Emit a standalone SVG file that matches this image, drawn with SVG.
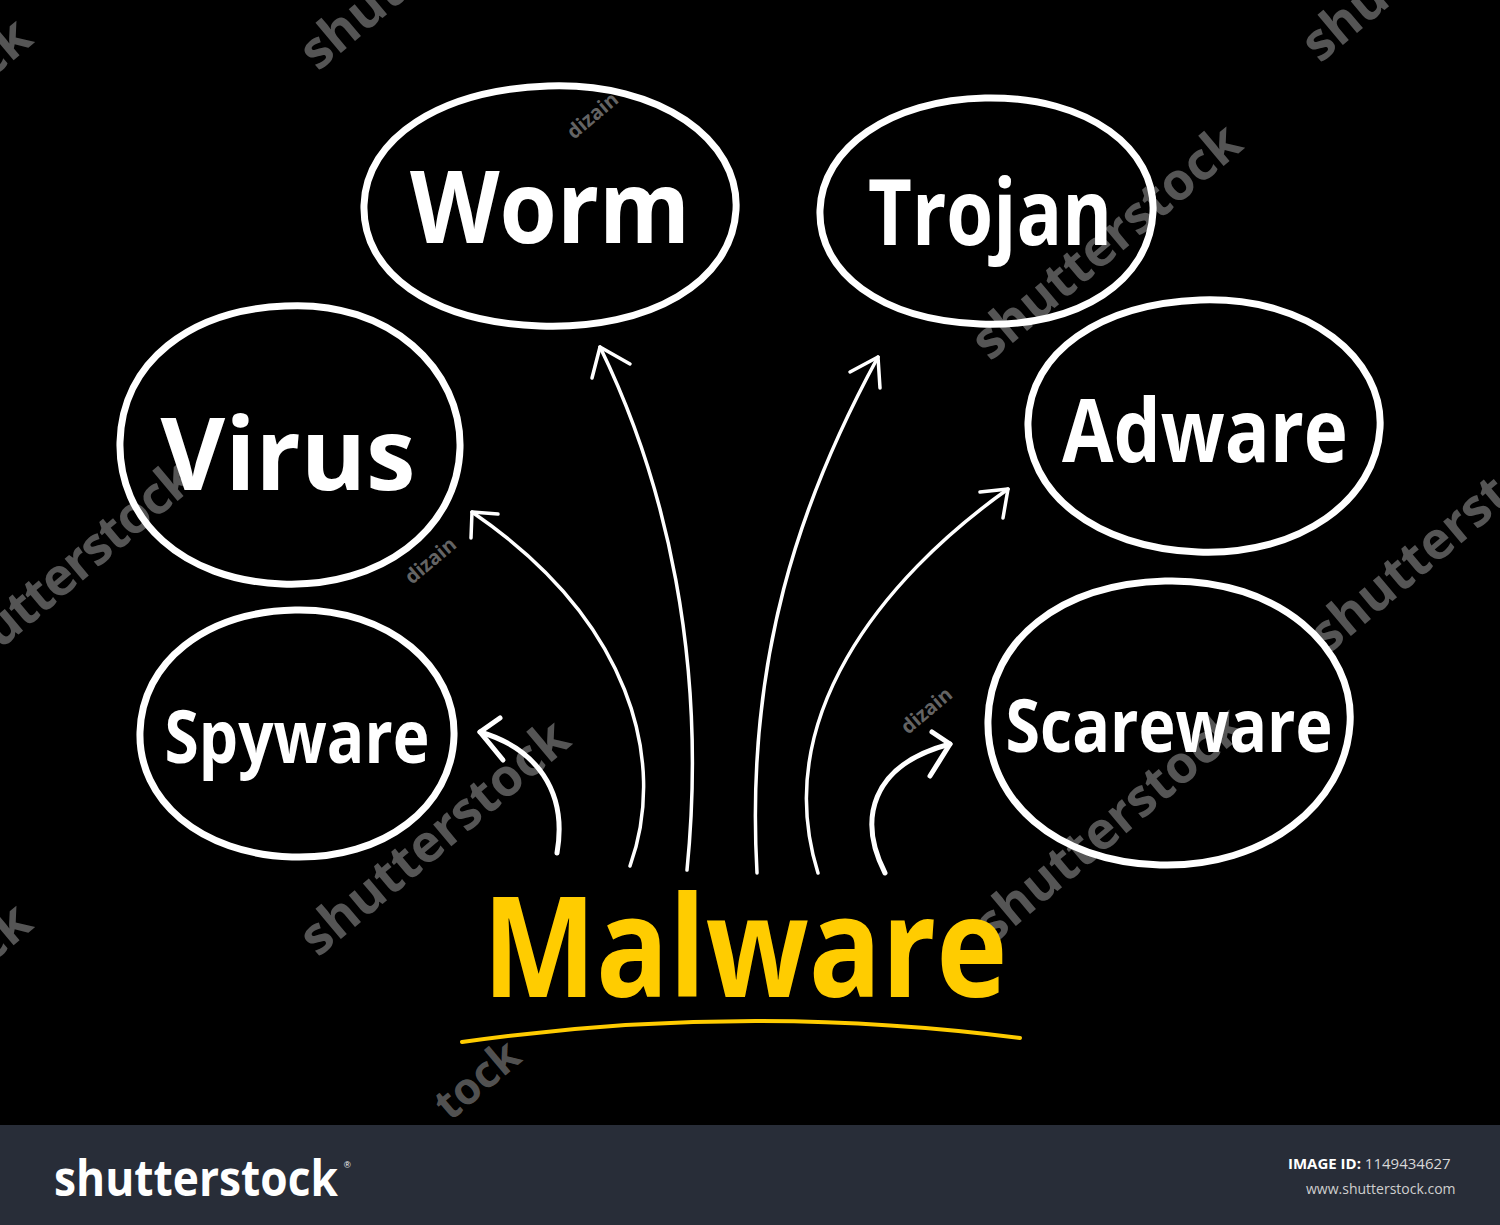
<svg xmlns="http://www.w3.org/2000/svg" width="1500" height="1225" viewBox="0 0 1500 1225">
<style>
.ring{fill:none;stroke:#fff;stroke-width:7;stroke-linecap:round}
.lbl{fill:#fff;font-family:"Open Sans","Liberation Sans",sans-serif;font-weight:700}
.arr{fill:none;stroke:#fff;stroke-linecap:round;stroke-linejoin:round}
.wm{fill:#9a9a9a;fill-opacity:0.55;font-family:"Open Sans","Liberation Sans",sans-serif;font-weight:700}
.dz{fill:#aaa;fill-opacity:0.6;font-family:"Open Sans","Liberation Sans",sans-serif;font-weight:700;font-size:20px}
</style>
<rect width="1500" height="1225" fill="#000"/>
<g id="watermarks">
<text class="wm" font-size="52" transform="translate(990,362) rotate(-40)">shutterstock</text>
<text class="wm" font-size="52" transform="translate(318,958) rotate(-40)">shutterstock</text>
<text class="wm" font-size="52" transform="translate(0,650) rotate(-40)" textLength="260">utterstock</text>
<text class="wm" font-size="52" transform="translate(993,945) rotate(-40)">shutterstock</text>
<text class="wm" font-size="52" transform="translate(1328,655) rotate(-40)">shutterst</text>
<text class="wm" font-size="52" transform="translate(318,72) rotate(-40)">shutt</text>
<text class="wm" font-size="52" transform="translate(1320,64) rotate(-40)">shutt</text>
<text class="wm" font-size="52" transform="translate(-10,80) rotate(-40)">ck</text>
<text class="wm" font-size="52" transform="translate(-10,965) rotate(-40)">ck</text>
<text class="wm" font-size="44" transform="translate(450,1122) rotate(-40)">tock</text>
<text class="dz" transform="translate(574,140) rotate(-40)">dizain</text>
<text class="dz" transform="translate(412,585) rotate(-40)">dizain</text>
<text class="dz" transform="translate(908,735) rotate(-40)">dizain</text>
</g>
<g id="node-worm">
<path class="ring" d="M548,86 C660,82 740,140 736,210 C732,282 650,330 540,326 C430,322 362,272 364,205 C366,138 440,90 548,86 Z"/>
<text class="lbl" x="550" y="243" font-size="100" text-anchor="middle" textLength="280" lengthAdjust="spacingAndGlyphs">Worm</text>
</g>
<g id="node-trojan">
<path class="ring" d="M985,98 C1090,96 1156,150 1153,212 C1150,280 1080,328 980,324 C880,320 818,272 820,210 C822,148 890,100 985,98 Z"/>
<text class="lbl" x="990" y="245" font-size="92" text-anchor="middle" textLength="244" lengthAdjust="spacingAndGlyphs">Trojan</text>
</g>
<g id="node-virus">
<path class="ring" d="M285,306 C390,300 462,370 460,448 C458,530 380,588 282,584 C182,580 118,520 120,442 C122,362 190,310 285,306 Z"/>
<text class="lbl" x="288" y="490" font-size="100" text-anchor="middle" textLength="255" lengthAdjust="spacingAndGlyphs">Virus</text>
</g>
<g id="node-adware">
<path class="ring" d="M1200,300 C1310,296 1384,360 1380,428 C1376,500 1300,556 1198,552 C1095,548 1026,492 1028,422 C1030,352 1100,304 1200,300 Z"/>
<text class="lbl" x="1205" y="462" font-size="88" text-anchor="middle" textLength="286" lengthAdjust="spacingAndGlyphs">Adware</text>
</g>
<g id="node-spyware">
<path class="ring" d="M295,610 C390,608 456,668 454,736 C452,806 385,860 292,857 C200,854 138,800 140,732 C142,662 205,612 295,610 Z"/>
<text class="lbl" x="297" y="763" font-size="74" text-anchor="middle" textLength="265" lengthAdjust="spacingAndGlyphs">Spyware</text>
</g>
<g id="node-scareware">
<path class="ring" d="M1165,581 C1280,578 1355,650 1350,724 C1345,804 1265,868 1160,865 C1055,862 986,800 988,720 C990,640 1060,584 1165,581 Z"/>
<text class="lbl" x="1169" y="752" font-size="74" text-anchor="middle" textLength="327" lengthAdjust="spacingAndGlyphs">Scareware</text>
</g>
<g id="node-malware">
<text x="745" y="997" fill="#FFCC00" font-family="Open Sans, Liberation Sans, sans-serif" font-weight="700" font-size="140" text-anchor="middle" textLength="525" lengthAdjust="spacingAndGlyphs">Malware</text>
<path d="M462,1042 Q740,1002 1020,1038" fill="none" stroke="#FFCC00" stroke-width="4" stroke-linecap="round"/>
</g>
<g id="connectors">
<path class="arr" stroke-width="5" d="M557,853 C568,790 535,748 480,732"/>
<path class="arr" stroke-width="5" d="M500,718 L480,732 L503,760"/>
<path class="arr" stroke-width="3.5" d="M630,866 C668,760 630,620 472,512"/>
<path class="arr" stroke-width="3.5" d="M498,514 L472,512 L471,538"/>
<path class="arr" stroke-width="3.5" d="M687,870 C708,660 665,480 600,347"/>
<path class="arr" stroke-width="3.5" d="M592,378 L600,347 L630,364"/>
<path class="arr" stroke-width="3.5" d="M757,873 C745,660 800,500 878,357"/>
<path class="arr" stroke-width="3.5" d="M850,372 L878,357 L880,388"/>
<path class="arr" stroke-width="3.5" d="M818,873 C770,720 880,580 1008,489"/>
<path class="arr" stroke-width="3.5" d="M980,492 L1008,489 L1003,518"/>
<path class="arr" stroke-width="5" d="M885,873 C858,820 870,765 950,744"/>
<path class="arr" stroke-width="5" d="M932,732 L950,744 L930,776"/>
</g>
<g id="footer">
<rect x="0" y="1125" width="1500" height="100" fill="#282d38"/>
<text x="54" y="1196" fill="#fff" font-family="Open Sans, Liberation Sans, sans-serif" font-weight="700" font-size="50" textLength="284" lengthAdjust="spacingAndGlyphs">shutterstock</text>
<text x="344" y="1168" fill="#fff" font-family="Liberation Sans, sans-serif" font-size="9">®</text>
<text x="1288" y="1169" fill="#fff" font-family="Open Sans, Liberation Sans, sans-serif" font-size="15"><tspan font-weight="700">IMAGE ID:</tspan><tspan fill="#d8d8d8"> 1149434627</tspan></text>
<text x="1306" y="1194" fill="#cfcfcf" font-family="Open Sans, Liberation Sans, sans-serif" font-size="14">www.shutterstock.com</text>
</g>
</svg>
